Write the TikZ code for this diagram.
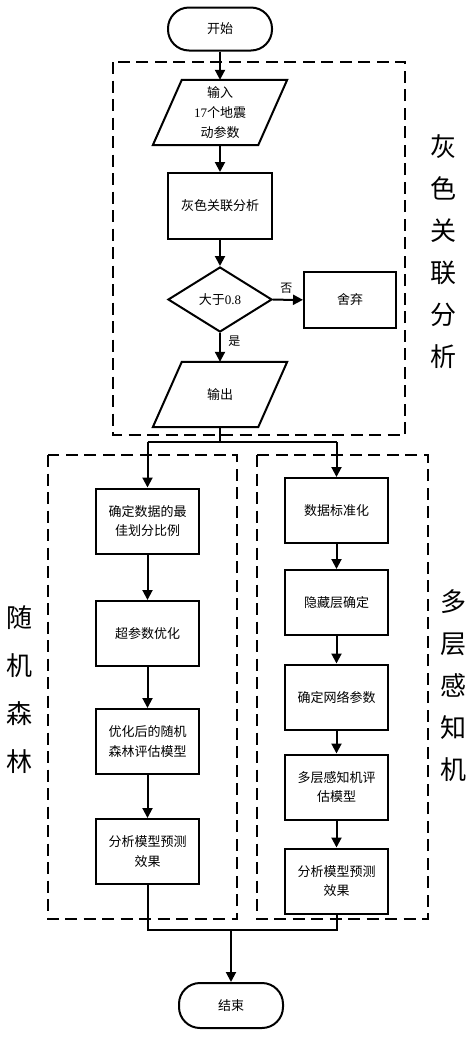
\documentclass[tikz,border=0pt]{standalone}
\usepackage{fontspec}
\setmainfont{Liberation Serif}
\newfontfamily\cjk{Noto Sans CJK SC}
\usetikzlibrary{arrows.meta,calc,shapes.geometric}
\begin{document}
\begin{tikzpicture}[x=1pt,y=-1pt,
  box/.style={draw,line width=2pt,minimum width=103pt,minimum height=65pt,align=center,inner sep=2pt,font=\cjk\fontsize{13}{19.5}\selectfont},
  term/.style={draw,line width=2pt,minimum width=104pt,minimum height=43pt,rounded corners=21pt,font=\cjk\fontsize{13}{19}\selectfont},
  para/.style={minimum width=134pt,minimum height=65pt,align=center,inner sep=0pt,font=\fontsize{13}{20}\selectfont},
  arr/.style={line width=2pt,-{Triangle[length=10pt,width=10pt]}},
  ln/.style={line width=2pt},
  frame/.style={line width=2.3pt,dash pattern=on 12pt off 6.5pt},
  side/.style={align=center,font=\cjk\fontsize{26}{42}\selectfont},
  lab/.style={font=\cjk\fontsize{12}{13}\selectfont}]
\useasboundingbox (0,0) rectangle (474,1037);
% frames
\draw[frame] (113,62) rectangle (405,435);
\draw[frame] (48,455) rectangle (237,919);
\draw[frame] (257,455) rectangle (428,919);
% side labels
\node[side] (s1) at (443,252) {灰\\色\\关\\联\\分\\析};
\node[side,font=\cjk\fontsize{26}{48}\selectfont] (s2) at (19,690) {随\\机\\森\\林};
\node[side] (s3) at (453,686) {多\\层\\感\\知\\机};
% top
\node[term] (start) at (220,29) {开始};
\node[para] (in) at (220,112.5) {{\cjk 输入}\\17{\cjk 个地震}\\{\cjk 动参数}};
\draw[ln] (in.south west) -- ([xshift=-29pt]in.south east) -- (in.north east) -- ([xshift=29pt]in.north west) -- cycle;
\node[box,minimum width=104pt,minimum height=66pt] (grey) at (220,206) {灰色关联分析};
\node[draw,line width=2pt,shape=diamond,minimum width=104pt,minimum height=65pt,inner sep=0pt] (dec) at (220,299.5) {};
\node[font=\fontsize{13}{14}\selectfont] at (dec) {{\cjk 大于}0.8};
\node[box,minimum width=92pt,minimum height=56pt] (drop) at (350,300) {舍弃};
\node[para] (out) at (220,394.5) {{\cjk 输出}};
\draw[ln] (out.south west) -- ([xshift=-29pt]out.south east) -- (out.north east) -- ([xshift=29pt]out.north west) -- cycle;
\draw[arr] (start) -- (in.north);
\draw[arr] (in.south) -- (grey);
\draw[arr] (grey) -- (dec);
\draw[arr] (dec) -- node[lab,above,pos=0.45,yshift=2pt] {否} (drop);
\draw[arr] (dec) -- node[lab,right,pos=0.3,xshift=4pt] {是} (out.north);
% left column
\node[box] (l1) at (147.5,521) {确定数据的最\\佳划分比例};
\node[box] (l2) at (147.5,633.5) {超参数优化};
\node[box] (l3) at (147.5,741.5) {优化后的随机\\森林评估模型};
\node[box] (l4) at (147.5,851.5) {分析模型预测\\效果};
% right column
\node[box] (r1) at (336.5,510.5) {数据标准化};
\node[box] (r2) at (336.5,602.5) {隐藏层确定};
\node[box] (r3) at (336.5,697) {确定网络参数};
\node[box] (r4) at (336.5,787) {多层感知机评\\估模型};
\node[box] (r5) at (336.5,881) {分析模型预测\\效果};
% split
\coordinate (sp) at (220,442);
\coordinate (spl) at (147.5,442);
\coordinate (spr) at (336.5,442);
\draw[ln] (out.south) -- (sp);
\draw[ln] (spl) -- (spr);
\draw[arr] (spl) -- (l1);
\draw[arr] (spr) -- (r1);
\draw[arr] (l1) -- (l2);
\draw[arr] (l2) -- (l3);
\draw[arr] (l3) -- (l4);
\draw[arr] (r1) -- (r2);
\draw[arr] (r2) -- (r3);
\draw[arr] (r3) -- (r4);
\draw[arr] (r4) -- (r5);
% merge
\node[term,minimum height=45pt] (end) at (231,1005.5) {结束};
\coordinate (ml) at (147.5,930);
\coordinate (mr) at (336.5,930);
\coordinate (mm) at (231,930);
\draw[ln] (l4.south) -- (ml) -- (mr) -- (r5.south);
\draw[arr] (mm) -- (end);
\end{tikzpicture}
\end{document}
